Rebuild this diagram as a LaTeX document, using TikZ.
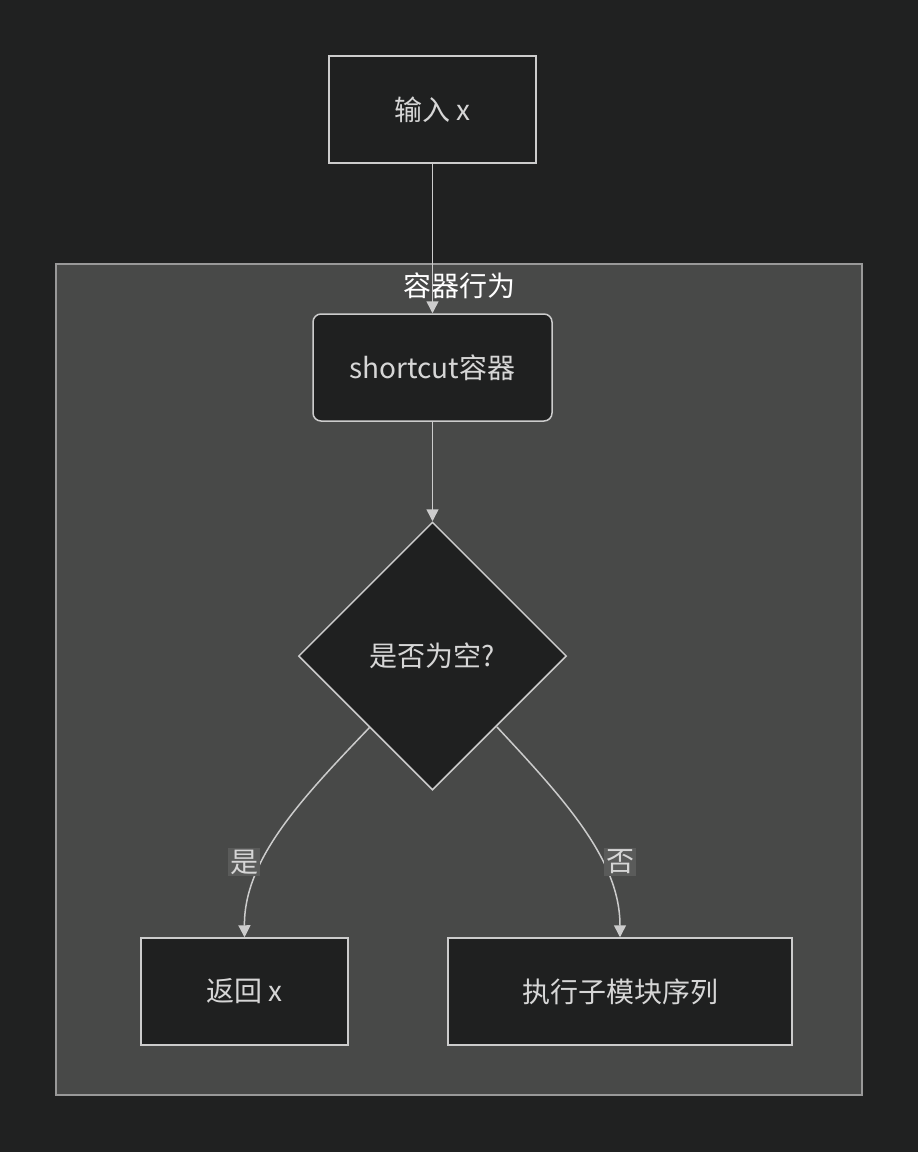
\documentclass[tikz,border=0pt]{standalone}
\usepackage{fontspec}
\setmainfont{Noto Sans CJK SC}
\usetikzlibrary{shapes.geometric,arrows.meta}
\definecolor{bg}{HTML}{202121}
\definecolor{cl}{HTML}{484948}
\definecolor{nf}{HTML}{1F2020}
\definecolor{ns}{HTML}{CCCCCC}
\definecolor{tx}{HTML}{D6D6D6}
\begin{document}
\begin{tikzpicture}[x=1pt,y=-1pt,
  box/.style={draw=ns,fill=nf,line width=1.5pt,text=tx,font=\fontsize{28}{32}\selectfont},
  lbl/.style={fill=cl!90!white,text=tx,inner sep=2pt,font=\fontsize{28}{32}\selectfont},
  arr/.style={draw=ns,line width=1.5pt,-{Triangle[length=12pt,width=12pt]}}]
\fill[bg] (0,0) rectangle (918,1152);
\useasboundingbox (0,0) rectangle (918,1152);
\draw[fill=cl,draw=gray!80,line width=1.5pt] (56,264) rectangle (862,1095);
\node[text=white,font=\fontsize{28}{32}\selectfont] (title) at (459,286) {容器行为};
\node[box,minimum width=207pt,minimum height=107pt] (in) at (432.5,109.5) {输入 x};
\node[box,rounded corners=8pt,minimum width=239pt,minimum height=107pt] (sc) at (432.5,367.5) {shortcut容器};
\node[box,diamond,minimum width=268pt,minimum height=268pt,inner sep=0pt] (d) at (432.5,656) {是否为空?};
\node[box,minimum width=207pt,minimum height=107pt] (ret) at (244.5,991.5) {返回 x};
\node[box,minimum width=344pt,minimum height=107pt] (ex) at (620,991.5) {执行子模块序列};
\draw[arr] (in) -- (sc.north);
\draw[arr] (sc) -- (d.north);
\draw[arr] (370,727) .. controls (300,800) and (244,860) .. (ret.north);
\draw[arr] (497,727) .. controls (565,800) and (620,860) .. (ex.north);
\node[lbl] (yes) at (244,862) {是};
\node[lbl] (no) at (620,862) {否};
\end{tikzpicture}
\end{document}
